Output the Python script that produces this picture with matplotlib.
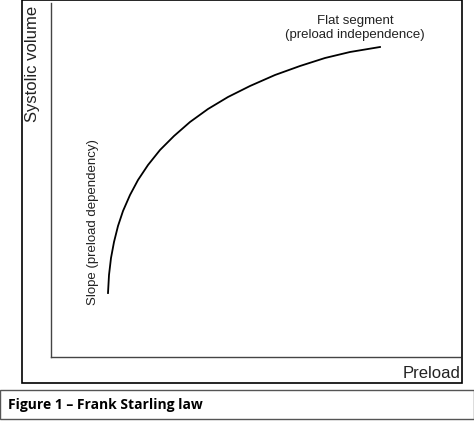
import matplotlib
matplotlib.use("Agg")
import matplotlib.pyplot as plt
from matplotlib.patches import Rectangle

W, H = 474, 421

# curve (preload, systolic volume), arbitrary units
preload = [57, 58, 60, 63, 67, 72, 79, 87, 97, 109, 123, 139, 157, 177, 199, 224, 249, 274, 299, 329]
volume = [64, 82, 99, 115, 131, 146, 162, 177, 192, 207, 221, 235, 248, 260, 271, 282, 291, 299, 305, 310]

fig = plt.figure(figsize=(W / 100, H / 100), dpi=100, facecolor="white")
plt.rcParams["font.family"] = "Liberation Sans"

def fx(px):
    return px / W

def fy(py):
    return 1 - py / H

# outer frame and caption box
fig.patches.append(Rectangle((fx(22), fy(383)), fx(462) - fx(22), fy(0) - fy(383),
                             transform=fig.transFigure, fill=False, lw=1.2, ec="black"))
fig.patches.append(Rectangle((fx(0), fy(419)), fx(474) - fx(0), fy(390) - fy(419),
                             transform=fig.transFigure, fill=False, lw=1.0, ec="#555555"))
fig.text(fx(8), fy(405), "Figure 1 \u2013 Frank Starling law", fontsize=10, fontweight="bold",
         family=["Open Sans", "DejaVu Sans"], va="center", ha="left")

ax = fig.add_axes([fx(51), fy(357), fx(460) - fx(51), fy(3) - fy(357)])
ax.plot(preload, volume, color="black", lw=1.3, solid_joinstyle="round")
ax.set_xlim(0, 409)
ax.set_ylim(0, 354)
for s in ("top", "right"):
    ax.spines[s].set_visible(False)
for s in ("left", "bottom"):
    ax.spines[s].set_color("#444444")
    ax.spines[s].set_linewidth(1.0)
ax.set_xticks([])
ax.set_yticks([])

fig.text(fx(33), fy(64), "Systolic volume", rotation=90, fontsize=12, ha="center", va="center", color="#222222")
fig.text(fx(461), fy(374), "Preload", fontsize=12, ha="right", va="center", color="#222222")
fig.text(fx(355), fy(28), "Flat segment\n(preload independence)", fontsize=9.5, ha="center",
         va="center", color="#222222", linespacing=1.2)
fig.text(fx(93), fy(222), "Slope (preload dependency)", rotation=90, fontsize=9.5, ha="center",
         va="center", color="#222222")

fig.savefig("out.png", dpi=100, facecolor="white")
